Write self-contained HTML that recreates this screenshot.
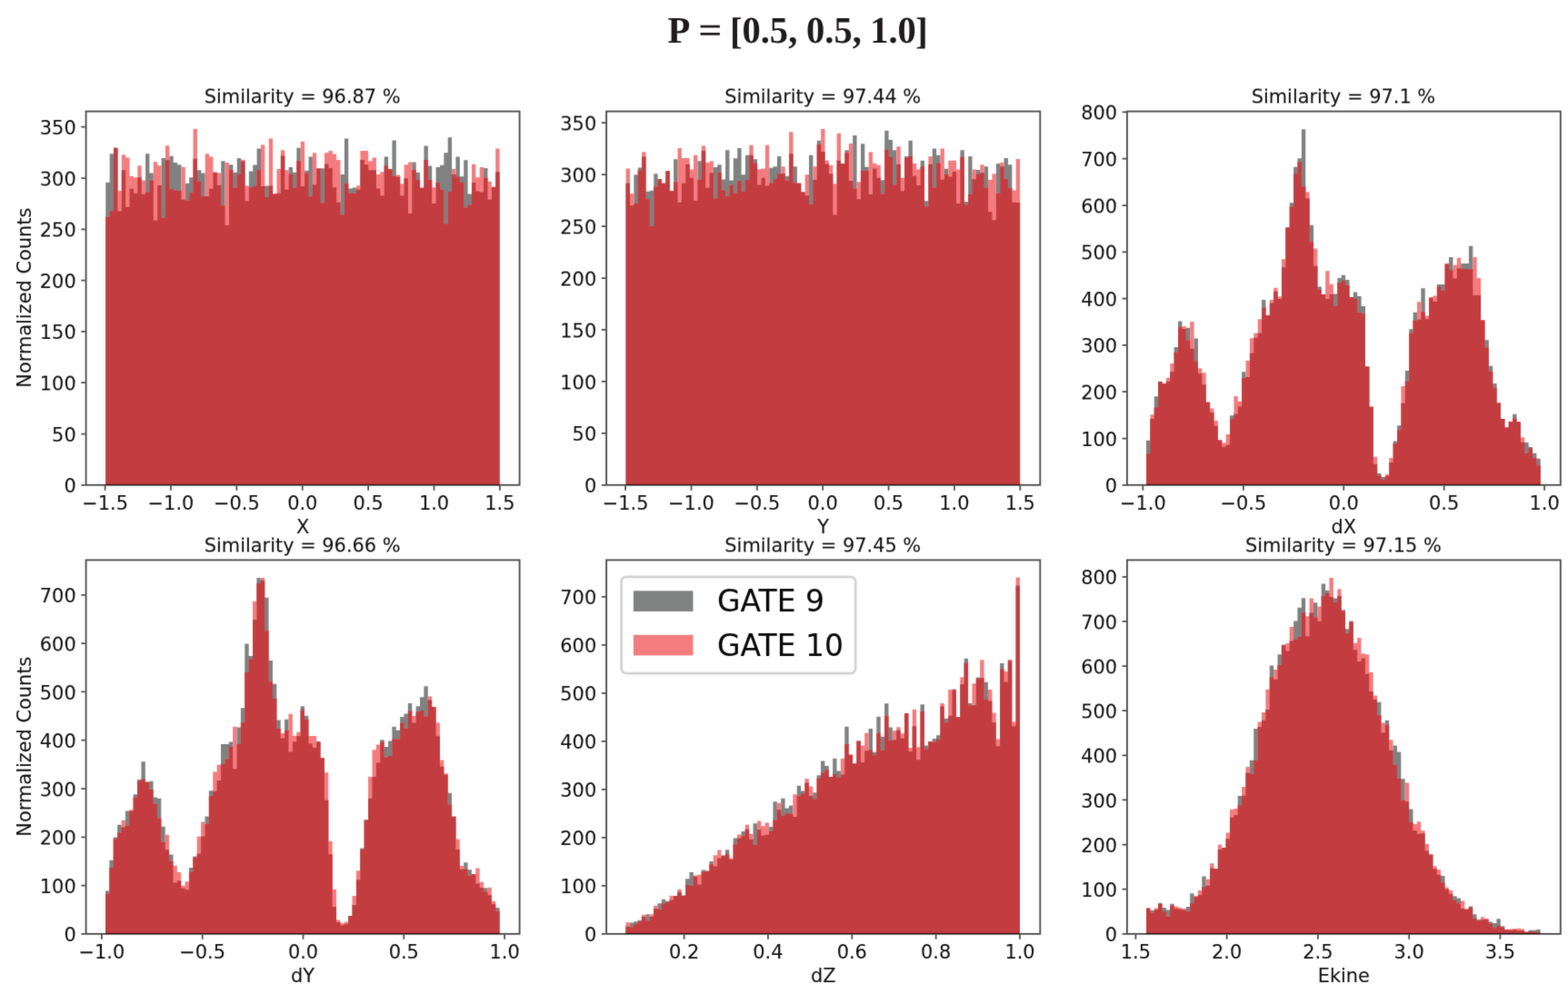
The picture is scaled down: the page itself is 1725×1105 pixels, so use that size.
<!DOCTYPE html>
<html lang="en"><head><meta charset="utf-8"><title>P = [0.5, 0.5, 1.0]</title>
<style>
html,body{margin:0;padding:0;background:#fff;}
body{width:1725px;height:1105px;overflow:hidden;}
svg{display:block;}
text{font-family:"DejaVu Sans","Liberation Sans",sans-serif;font-size:20.9px;fill:#141414;stroke:#141414;stroke-width:0.1px;stroke-linejoin:round;}
.main{font-family:"Liberation Serif",serif;font-weight:bold;font-size:40.6px;fill:#1f1b1c;stroke:none;text-rendering:geometricPrecision;}
.leg{font-size:33.0px;fill:#0a0a0a;stroke:#0a0a0a;}
.ax{fill:none;stroke:#000;stroke-opacity:0.7;stroke-width:1.85;}
.tk{stroke:#000;stroke-opacity:0.7;stroke-width:1.75;fill:none;}
</style></head><body>
<svg width="1725" height="1105" viewBox="0 0 1725 1105">
<defs>
<filter id="soft" x="0" y="0" width="1725" height="1105" filterUnits="userSpaceOnUse" color-interpolation-filters="sRGB"><feConvolveMatrix order="3" kernelMatrix="0.0112 0.0835 0.0112 0.0835 0.6209 0.0835 0.0112 0.0835 0.0112" edgeMode="duplicate" preserveAlpha="false"/></filter>
<filter id="softv" x="0" y="0" width="1725" height="1105" filterUnits="userSpaceOnUse" color-interpolation-filters="sRGB"><feConvolveMatrix order="3" kernelMatrix="0.0000 0.0000 0.0000 0.0530 0.3940 0.0530 0.0530 0.3940 0.0530" edgeMode="duplicate" preserveAlpha="false"/></filter>
<filter id="softh" x="0" y="0" width="1725" height="1105" filterUnits="userSpaceOnUse" color-interpolation-filters="sRGB"><feConvolveMatrix order="3" kernelMatrix="0.0000 0.0530 0.0530 0.0000 0.3940 0.3940 0.0000 0.0530 0.0530" edgeMode="duplicate" preserveAlpha="false"/></filter>
</defs>
<rect width="1725" height="1105" fill="#fff"/>
<g id="plots" filter="url(#soft)">

<g id="p1">
<path d="M116.30,533.80V200.72H120.68V169.22H125.05V163.03H129.43V232.22H133.81V187.14H138.18V227.87H142.56V207.78H146.94V212.67H151.31V195.29H155.69V213.75H160.07V169.22H164.44V190.40H168.82V242.54H173.20V203.98H177.57V173.89H181.95V176.28H186.33V171.72H190.71V178.99H195.08V181.17H199.46V219.73H203.84V201.80H208.21V195.29H212.59V174.65H216.97V187.14H221.34V190.40H225.72V215.93H230.10V207.78H234.47V189.86H238.85V203.98H243.23V177.15H247.60V247.97H251.98V181.17H256.36V189.86H260.73V173.89H265.11V177.58H269.49V221.36H273.86V188.44H278.24V181.49H282.62V163.46H286.99V205.06H291.37V204.52H295.75H300.12V213.43H304.50V212.67H308.88V171.39H313.25V208.86H317.63V183.88H322.01V189.86H326.38V162.70H330.76V205.06H335.14V187.68H339.52V172.48H343.89V203.22H348.27V185.51H352.65V185.18H357.02V180.62H361.40V184.97H365.78V206.15H370.15V222.77H374.53V192.03H378.91V152.38H383.28V207.56H387.66V206.48H392.04V208.86H396.41V176.06H400.79V181.17H405.17V187.14H409.54H413.92V207.56H418.30V215.38H422.67V172.48H427.05V186.27H431.43V154.55H435.80V194.74H440.18V215.38H444.56V196.37H448.93V234.93H453.31V178.45H457.69V189.64H462.06V206.69H466.44V160.53H470.82V182.58H475.19V224.07H479.57V183.88H483.95V181.71H488.33V168.13H492.70V151.29H497.08V192.03H501.46V172.48H505.83V194.20H510.21V176.28H514.59V213.43H518.96V200.72H523.34V210.49H527.72V211.58H532.09V184.97H536.47V219.73H540.85V206.15H545.22V189.31H549.60V533.80Z" fill="rgb(128,129,129)"/>
<path d="M116.30,533.80V238.74H120.68V232.22H125.05V162.37H129.43V209.95H133.81V170.30H138.18V173.56H142.56V193.66H146.94V195.29H151.31V182.25H155.69V198.55H160.07V211.58H164.44V198.55H168.82V178.23H173.20V182.25H177.57V239.82H181.95V160.20H186.33V208.32H190.71V209.41H195.08V209.95H199.46V183.66H203.84V220.81H208.21V212.12H212.59V142.06H216.97V199.63H221.34V215.93H225.72V169.22H230.10V172.48H234.47V189.86H238.85V190.40H243.23V226.24H247.60V178.99H251.98V187.14H256.36V206.69H260.73V192.03H265.11V175.73H269.49V204.52H273.86V206.15H278.24V205.06H282.62V187.14H286.99V159.44H291.37V217.01H295.75V152.38H300.12V213.43H304.50V186.05H308.88V165.20H313.25V187.14H317.63V191.48H322.01V206.69H326.38V177.15H330.76V155.64H335.14V190.18H339.52V216.25H343.89V168.13H348.27V185.51H352.65V223.53H357.02V168.13H361.40V165.96H365.78V169.54H370.15V176.06H374.53V236.56H378.91V201.80H383.28V212.67H387.66H392.04V204.30H396.41V165.96H400.79H405.17V177.15H409.54V173.56H413.92V192.03H418.30V189.31H422.67V182.25H427.05V186.27H431.43V193.66H435.80V192.57H440.18V202.13H444.56V181.17H448.93V178.45H453.31V186.92H457.69V198.00H462.06V206.69H466.44V176.06H470.82V198.00H475.19V206.15H479.57V200.72H483.95V208.86H488.33V246.34H492.70V211.04H497.08V186.05H501.46V194.74H505.83V200.72H510.21V228.42H514.59V225.16H518.96V180.84H523.34V195.29H527.72V183.88H532.09V195.83H536.47V199.63H540.85V205.61H545.22V163.46H549.60V533.80Z" fill="rgb(243,124,127)"/>
<path d="M116.30,533.80V238.74H120.68V232.22H125.05V163.03H129.43V232.22H133.81V187.14H138.18V227.87H142.56V207.78H146.94V212.67H151.31V195.29H155.69V213.75H160.07V211.58H164.44V198.55H168.82V242.54H173.20V203.98H177.57V239.82H181.95V176.28H186.33V208.32H190.71V209.41H195.08V209.95H199.46V219.73H203.84V220.81H208.21V212.12H212.59V174.65H216.97V199.63H221.34V215.93H225.72H230.10V207.78H234.47V189.86H238.85V203.98H243.23V226.24H247.60V247.97H251.98V187.14H256.36V206.69H260.73V192.03H265.11V177.58H269.49V221.36H273.86V206.15H278.24V205.06H282.62V187.14H286.99V205.06H291.37V217.01H295.75V204.52H300.12V213.43H304.50V212.67H308.88V171.39H313.25V208.86H317.63V191.48H322.01V206.69H326.38V177.15H330.76V205.06H335.14V190.18H339.52V216.25H343.89V203.22H348.27V185.51H352.65V223.53H357.02V180.62H361.40V184.97H365.78V206.15H370.15V222.77H374.53V236.56H378.91V201.80H383.28V212.67H387.66H392.04V208.86H396.41V176.06H400.79V181.17H405.17V187.14H409.54H413.92V207.56H418.30V215.38H422.67V182.25H427.05V186.27H431.43V193.66H435.80V194.74H440.18V215.38H444.56V196.37H448.93V234.93H453.31V186.92H457.69V198.00H462.06V206.69H466.44V176.06H470.82V198.00H475.19V224.07H479.57V200.72H483.95V208.86H488.33V246.34H492.70V211.04H497.08V192.03H501.46V194.74H505.83V200.72H510.21V228.42H514.59V225.16H518.96V200.72H523.34V210.49H527.72V211.58H532.09V195.83H536.47V219.73H540.85V206.15H545.22V189.31H549.60V533.80Z" fill="rgb(195,61,64)"/>
<rect class="ax" x="94.6" y="122.6" width="477.00" height="411.20"/>
<path class="tk" d="M115.60,534.75v4.8999999999999995M187.98,534.75v4.8999999999999995M260.37,534.75v4.8999999999999995M332.75,534.75v4.8999999999999995M405.13,534.75v4.8999999999999995M477.52,534.75v4.8999999999999995M549.90,534.75v4.8999999999999995M93.65,533.80h-4.3M93.65,477.50h-4.3M93.65,421.20h-4.3M93.65,364.90h-4.3M93.65,308.60h-4.3M93.65,252.30h-4.3M93.65,196.00h-4.3M93.65,139.70h-4.3"/>
</g>
<g id="p2">
<path d="M688.60,533.80V201.80H692.98V226.24H697.36V192.35H701.74V184.42H706.12V172.48H710.49V210.82H714.87V209.73H719.25V191.27H723.63V197.13H728.01V201.80H732.39V188.23H736.77V210.17H741.15V175.19H745.52V222.77H749.90V201.80H754.28V180.84H758.66V195.83H763.04V220.81H767.42V177.15H771.80V165.96H776.18V206.69H780.55V190.18H784.93V183.88H789.31V181.17H793.69V197.46H798.07V165.20H802.45V198.55H806.83V174.32H811.21V163.03H815.58V192.35H819.96V170.85H824.34V170.63H828.72V175.19H833.10V203.43H837.48V195.83H841.86V204.52H846.24V184.75H850.62V183.34H854.99V171.93H859.37V190.94H863.75V193.66H868.13V169.22H872.51V183.34H876.89V201.80H881.27V211.58H885.65V215.17H890.02V170.85H894.40V198.00H898.78V154.77H903.16V167.04H907.54V180.62H911.92V191.27H916.30V236.56H920.68V176.82H925.05V180.08H929.43V165.20H933.81V199.09H938.19V148.90H942.57V219.18H946.95V158.35H951.33V183.66H955.71V213.75H960.08V185.51H964.46V195.83H968.84V198.22H973.22V143.69H977.60V154.01H981.98V165.20H986.36V180.84H990.74V210.17H995.12V171.93H999.49V154.77H1003.87V193.44H1008.25V203.98H1012.63V176.82H1017.01V221.36H1021.39V180.84H1025.77V163.46H1030.15V170.85H1034.52V197.79H1038.90V185.84H1043.28V194.53H1047.66V189.10H1052.04V224.07H1056.42V165.20H1060.80V221.90H1065.18V171.93H1069.55V197.13H1073.93V186.92H1078.31V190.18H1082.69V183.34H1087.07V233.31H1091.45V242.32H1095.83V180.08H1100.21V183.34H1104.58V174.10H1108.96V181.17H1113.34V222.77H1117.72V222.99H1122.10V533.80Z" fill="rgb(128,129,129)"/>
<path d="M688.60,533.80V185.51H692.98V212.99H697.36V224.07H701.74V187.68H706.12V167.37H710.49V219.18H714.87V249.06H719.25V205.61H723.63V197.13H728.01V201.80H732.39V188.23H736.77V210.17H741.15V200.17H745.52V163.03H749.90V173.89H754.28V174.10H758.66V186.60H763.04V170.63H767.42V198.00H771.80V160.53H776.18V178.99H780.55V177.36H784.93V218.42H789.31V189.86H793.69V209.41H798.07V215.93H802.45V203.43H806.83V212.67H811.21V199.09H815.58V211.04H819.96V198.00H824.34V159.77H828.72V179.75H833.10V186.27H837.48V185.51H841.86V159.77H846.24V201.48H850.62V196.92H854.99V191.27H859.37V183.34H863.75V198.87H868.13V145.32H872.51V201.26H876.89V201.80H881.27V211.58H885.65V192.35H890.02V224.94H894.40V183.34H898.78V159.11H903.16V142.06H907.54V176.82H911.92V181.71H916.30V202.35H920.68V146.73H925.05V180.08H929.43V168.13H933.81V158.03H938.19V207.56H942.57V200.17H946.95V187.68H951.33H955.71V167.37H960.08V179.75H964.46V181.71H968.84V213.43H973.22V164.87H977.60V172.48H981.98V203.43H986.36V161.29H990.74V195.83H995.12V174.10H999.49V171.72H1003.87V179.75H1008.25V186.27H1012.63V183.34H1017.01V227.33H1021.39V171.93H1025.77V206.48H1030.15V179.54H1034.52V163.46H1038.90V192.03H1043.28V176.82H1047.66H1052.04V186.60H1056.42V172.80H1060.80V225.16H1065.18V213.75H1069.55V186.60H1073.93V192.03H1078.31V181.17H1082.69V206.69H1087.07V198.00H1091.45V191.27H1095.83V212.67H1100.21V178.67H1104.58V196.92H1108.96V206.69H1113.34V209.41H1117.72V174.97H1122.10V533.80Z" fill="rgb(243,124,127)"/>
<path d="M688.60,533.80V201.80H692.98V226.24H697.36V224.07H701.74V187.68H706.12V172.48H710.49V219.18H714.87V249.06H719.25V205.61H723.63V197.13H728.01V201.80H732.39V188.23H736.77V210.17H741.15V200.17H745.52V222.77H749.90V201.80H754.28V180.84H758.66V195.83H763.04V220.81H767.42V198.00H771.80V165.96H776.18V206.69H780.55V190.18H784.93V218.42H789.31V189.86H793.69V209.41H798.07V215.93H802.45V203.43H806.83V212.67H811.21V199.09H815.58V211.04H819.96V198.00H824.34V170.63H828.72V179.75H833.10V203.43H837.48V195.83H841.86V204.52H846.24V201.48H850.62V196.92H854.99V191.27H859.37V190.94H863.75V198.87H868.13V169.22H872.51V201.26H876.89V201.80H881.27V211.58H885.65V215.17H890.02V224.94H894.40V198.00H898.78V159.11H903.16V167.04H907.54V180.62H911.92V191.27H916.30V236.56H920.68V176.82H925.05V180.08H929.43V168.13H933.81V199.09H938.19V207.56H942.57V219.18H946.95V187.68H951.33H955.71V213.75H960.08V185.51H964.46V195.83H968.84V213.43H973.22V164.87H977.60V172.48H981.98V203.43H986.36V180.84H990.74V210.17H995.12V174.10H999.49V171.72H1003.87V193.44H1008.25V203.98H1012.63V183.34H1017.01V227.33H1021.39V180.84H1025.77V206.48H1030.15V179.54H1034.52V197.79H1038.90V192.03H1043.28V194.53H1047.66V189.10H1052.04V224.07H1056.42V172.80H1060.80V225.16H1065.18V213.75H1069.55V197.13H1073.93V192.03H1078.31V190.18H1082.69V206.69H1087.07V233.31H1091.45V242.32H1095.83V212.67H1100.21V183.34H1104.58V196.92H1108.96V206.69H1113.34V222.77H1117.72V222.99H1122.10V533.80Z" fill="rgb(195,61,64)"/>
<rect class="ax" x="667.1" y="122.6" width="477.20" height="411.20"/>
<path class="tk" d="M688.10,534.75v4.8999999999999995M760.47,534.75v4.8999999999999995M832.83,534.75v4.8999999999999995M905.20,534.75v4.8999999999999995M977.57,534.75v4.8999999999999995M1049.93,534.75v4.8999999999999995M1122.30,534.75v4.8999999999999995M666.15,533.80h-4.3M666.15,476.86h-4.3M666.15,419.91h-4.3M666.15,362.97h-4.3M666.15,306.03h-4.3M666.15,249.09h-4.3M666.15,192.14h-4.3M666.15,135.20h-4.3"/>
</g>
<g id="p3">
<path d="M1261.00,533.80V484.80H1265.38V460.90H1269.76V436.29H1274.15V420.00H1278.53V422.35H1282.91V420.00H1287.29V409.14H1291.67V381.99H1296.05V353.57H1300.44V362.08H1304.82V360.81H1309.20V383.80H1313.58V372.58H1317.96V410.95H1322.35V423.26H1326.73V442.81H1331.11V454.03H1335.49V468.87H1339.87V484.43H1344.25V491.67H1348.64V489.86H1353.02V457.29H1357.40V455.84H1361.78V447.15H1366.16V409.14H1370.55V415.11H1374.93V388.87H1379.31V371.67H1383.69V366.79H1388.07V330.00H1392.45V346.92H1396.84V333.38H1401.22V320.65H1405.60V329.00H1409.98V294.18H1414.36V250.40H1418.75V223.13H1423.13V183.73H1427.51V174.18H1431.89V142.34H1436.27V218.56H1440.65V247.81H1445.04V292.79H1449.42V315.47H1453.80V324.03H1458.18V329.00H1462.56V324.03H1466.95V323.43H1471.33V306.12H1475.71V302.74H1480.09V308.11H1484.47V327.01H1488.85V321.44H1493.24V326.02H1497.62V336.97H1502.00V403.58H1506.38V447.76H1510.76V510.65H1515.15V521.00H1519.53V524.98H1523.91V523.98H1528.29V509.05H1532.67V485.57H1537.05V468.26H1541.44V443.78H1545.82V407.96H1550.20V362.19H1554.58V343.86H1558.96V351.68H1563.35V317.13H1567.73V351.13H1572.11V328.00H1576.49V332.12H1580.87V313.11H1585.25H1589.64V290.63H1594.02V283.03H1598.40V306.60H1602.78V295.19H1607.16V289.98H1611.55H1615.93V270.75H1620.31V325.06H1624.69V324.74H1629.07V352.55H1633.45V374.33H1637.84V402.67H1642.22V421.89H1646.60V443.39H1650.98V460.98H1655.36V470.42H1659.75V463.91H1664.13V455.77H1668.51V464.23H1672.89V486.71H1677.27V487.04H1681.65V491.92H1686.04V498.76H1690.42V504.63H1694.80V533.80Z" fill="rgb(128,129,129)"/>
<path d="M1261.00,533.80V499.28H1265.38V456.20H1269.76V448.60H1274.15V419.64H1278.53V422.35H1282.91V415.66H1287.29V400.09H1291.67V387.42H1296.05V359.91H1300.44V359.00H1304.82V374.39H1309.20V354.12H1313.58V397.56H1317.96V405.52H1322.35V410.23H1326.73V442.81H1331.11V449.50H1335.49V463.08H1339.87V484.43H1344.25V487.51H1348.64V477.92H1353.02V461.27H1357.40V435.93H1361.78V441.72H1366.16V416.02H1370.55V397.01H1374.93V372.22H1379.31V366.79H1383.69V351.22H1388.07V338.56H1392.45V346.92H1396.84V330.00H1401.22V316.67H1405.60V326.62H1409.98V285.22H1414.36V250.40H1418.75V227.51H1423.13V191.29H1427.51V178.16H1431.89V205.22H1436.27V211.19H1440.65V266.32H1445.04V273.68H1449.42V318.66H1453.80V324.03H1458.18V298.16H1462.56V312.69H1466.95V336.97H1471.33V311.09H1475.71V309.10H1480.09V314.08H1484.47V327.01H1488.85V329.00H1493.24V343.93H1497.62V345.32H1502.00V403.58H1506.38V447.76H1510.76V502.69H1515.15V523.38H1519.53V527.96H1523.91V521.99H1528.29V504.08H1532.67V488.16H1537.05V473.23H1541.44V425.07H1545.82V419.50H1550.20V366.77H1554.58V352.76H1558.96V332.34H1563.35V343.20H1567.73V347.55H1572.11V326.91H1576.49V325.39H1580.87V315.61H1585.25V319.96H1589.64V289.76H1594.02V297.15H1598.40V291.72H1602.78V283.79H1607.16V295.73H1611.55V296.06H1615.93V296.28H1620.31V283.03H1624.69V306.05H1629.07V352.55H1633.45V382.48H1637.84V408.86H1642.22V426.78H1646.60V443.39H1650.98V460.98H1655.36V470.42H1659.75V463.91H1664.13V460.16H1668.51V464.23H1672.89V481.34H1677.27V498.76H1681.65V493.22H1686.04V504.14H1690.42V512.28H1694.80V533.80Z" fill="rgb(243,124,127)"/>
<path d="M1261.00,533.80V499.28H1265.38V460.90H1269.76V448.60H1274.15V420.00H1278.53V422.35H1282.91V420.00H1287.29V409.14H1291.67V387.42H1296.05V359.91H1300.44V362.08H1304.82V374.39H1309.20V383.80H1313.58V397.56H1317.96V410.95H1322.35V423.26H1326.73V442.81H1331.11V454.03H1335.49V468.87H1339.87V484.43H1344.25V491.67H1348.64V489.86H1353.02V461.27H1357.40V455.84H1361.78V447.15H1366.16V416.02H1370.55V415.11H1374.93V388.87H1379.31V371.67H1383.69V366.79H1388.07V338.56H1392.45V346.92H1396.84V333.38H1401.22V320.65H1405.60V329.00H1409.98V294.18H1414.36V250.40H1418.75V227.51H1423.13V191.29H1427.51V178.16H1431.89V205.22H1436.27V218.56H1440.65V266.32H1445.04V292.79H1449.42V318.66H1453.80V324.03H1458.18V329.00H1462.56V324.03H1466.95V336.97H1471.33V311.09H1475.71V309.10H1480.09V314.08H1484.47V327.01H1488.85V329.00H1493.24V343.93H1497.62V345.32H1502.00V403.58H1506.38V447.76H1510.76V510.65H1515.15V523.38H1519.53V527.96H1523.91V523.98H1528.29V509.05H1532.67V488.16H1537.05V473.23H1541.44V443.78H1545.82V419.50H1550.20V366.77H1554.58V352.76H1558.96V351.68H1563.35V343.20H1567.73V351.13H1572.11V328.00H1576.49V332.12H1580.87V315.61H1585.25V319.96H1589.64V290.63H1594.02V297.15H1598.40V306.60H1602.78V295.19H1607.16V295.73H1611.55V296.06H1615.93V296.28H1620.31V325.06H1624.69V324.74H1629.07V352.55H1633.45V382.48H1637.84V408.86H1642.22V426.78H1646.60V443.39H1650.98V460.98H1655.36V470.42H1659.75V463.91H1664.13V460.16H1668.51V464.23H1672.89V486.71H1677.27V498.76H1681.65V493.22H1686.04V504.14H1690.42V512.28H1694.80V533.80Z" fill="rgb(195,61,64)"/>
<rect class="ax" x="1239.9" y="122.6" width="476.90" height="411.20"/>
<path class="tk" d="M1257.40,534.75v4.8999999999999995M1367.83,534.75v4.8999999999999995M1478.25,534.75v4.8999999999999995M1588.67,534.75v4.8999999999999995M1699.10,534.75v4.8999999999999995M1238.95,533.80h-4.3M1238.95,482.50h-4.3M1238.95,431.20h-4.3M1238.95,379.90h-4.3M1238.95,328.60h-4.3M1238.95,277.30h-4.3M1238.95,226.00h-4.3M1238.95,174.70h-4.3M1238.95,123.40h-4.3"/>
</g>
<g id="p4">
<path d="M116.00,1027.85V980.59H120.38V946.74H124.76V921.40H129.14V907.83H133.52V910.54H137.90V892.44H142.28H146.66V874.34H151.04V858.05H155.42V838.14H159.80V860.77H164.18V859.86H168.56V877.42H172.94V878.87H177.32V909.64H181.70V935.34H186.08V940.41H190.46V971.54H194.84V969.37H199.22V977.51H203.60V979.32H207.98V954.89H212.36V942.58H216.74V939.50H221.12V920.50H225.49V898.42H229.87V870.18H234.25V870.72H238.63V858.96H243.01V819.03H247.39H251.77V816.44H256.15V846.29H260.53V800.52H264.91V779.23H269.29V708.58H273.67V722.11H278.05V682.31H282.43V635.95H286.81V638.93H291.19V657.84H295.57V726.89H299.95V752.76H304.33V792.56H308.71V812.46H313.09V791.77H317.47V827.59H321.85V816.44H326.23V810.07H330.61V777.24H334.99V787.79H339.37V818.43H343.75V823.01H348.13V815.65H352.51V834.35H356.89V880.65H361.27V940.35H365.65V998.06H370.03V1014.98H374.41V1018.56H378.79V1016.97H383.17V1008.01H387.55V996.07H391.93V968.21H396.31V933.38H400.69V902.54H405.07V878.66H409.45V854.93H413.83V839.50H418.21V814.30H422.59V821.91H426.97V815.39H431.35V799.86H435.73V803.66H440.11V788.99H444.48V785.41H448.86V774.11H453.24V795.51H457.62V777.37H462.00V767.27H466.38V755.32H470.76V770.53H475.14V778.13H479.52V810.17H483.90V843.85H488.28V852.76H492.66V872.80H497.04V898.86H501.42V935.02H505.80V956.68H510.18V949.35H514.56V957.17H518.94V962.05H523.32V972.48H527.70V977.04H532.08V977.36H536.46V985.18H540.84V994.95H545.22V999.02H549.60V1027.85Z" fill="rgb(128,129,129)"/>
<path d="M116.00,1027.85V983.85H120.38V954.89H124.76V923.21H129.14V916.52H133.52V902.76H137.90V908.73H142.28V891.18H146.66V877.42H151.04V859.86H155.42V857.15H159.80V860.77H164.18V868.91H168.56V884.66H172.94V900.59H177.32V926.83H181.70V918.69H186.08V947.65H190.46V952.71H194.84V959.95H199.22V974.80H203.60V970.27H207.98V959.41H212.36V943.67H216.74V920.86H221.12V904.57H225.49V906.92H229.87V876.15H234.25V849.55H238.63V841.76H243.01V840.92H247.39V835.55H251.77V822.01H256.15V799.73H260.53V819.03H264.91V795.15H269.29V740.02H273.67V725.50H278.05V661.82H282.43V641.92H286.81V635.95H291.19V694.25H295.57V750.37H299.95V768.68H304.33V801.72H308.71V807.09H313.09V803.71H317.47V785.80H321.85V809.68H326.23V805.70H330.61V781.22H334.99V791.77H339.37V810.07H343.75H348.13V817.04H352.51V834.35H356.89V850.20H361.27V925.82H365.65V978.76H370.03V1012.59H374.41V1015.97H378.79V1014.58H383.17V1008.01H387.55V986.12H391.93V958.26H396.31V934.98H400.69V902.54H405.07V854.78H409.45V825.17H413.83V819.41H418.21V816.15H422.59V833.53H426.97V831.90H431.35V813.43H435.73H440.11V795.51H444.48V801.48H448.86V782.15H453.24V787.91H457.62V783.24H462.00V781.93H466.38V788.45H470.76V766.51H475.14V778.13H479.52V795.51H483.90V836.46H488.28V851.24H492.66V885.50H497.04V898.86H501.42V923.62H505.80V952.93H510.18V956.68H514.56V963.68H518.94V962.05H523.32V955.54H527.70V970.85H532.08V981.60H536.46V976.71H540.84V991.69H545.22V1002.77H549.60V1027.85Z" fill="rgb(243,124,127)"/>
<path d="M116.00,1027.85V983.85H120.38V954.89H124.76V923.21H129.14V916.52H133.52V910.54H137.90V908.73H142.28V892.44H146.66V877.42H151.04V859.86H155.42V857.15H159.80V860.77H164.18V868.91H168.56V884.66H172.94V900.59H177.32V926.83H181.70V935.34H186.08V947.65H190.46V971.54H194.84V969.37H199.22V977.51H203.60V979.32H207.98V959.41H212.36V943.67H216.74V939.50H221.12V920.50H225.49V906.92H229.87V876.15H234.25V870.72H238.63V858.96H243.01V840.92H247.39V835.55H251.77V822.01H256.15V846.29H260.53V819.03H264.91V795.15H269.29V740.02H273.67V725.50H278.05V682.31H282.43V641.92H286.81V638.93H291.19V694.25H295.57V750.37H299.95V768.68H304.33V801.72H308.71V812.46H313.09V803.71H317.47V827.59H321.85V816.44H326.23V810.07H330.61V781.22H334.99V791.77H339.37V818.43H343.75V823.01H348.13V817.04H352.51V834.35H356.89V880.65H361.27V940.35H365.65V998.06H370.03V1014.98H374.41V1018.56H378.79V1016.97H383.17V1008.01H387.55V996.07H391.93V968.21H396.31V934.98H400.69V902.54H405.07V878.66H409.45V854.93H413.83V839.50H418.21V816.15H422.59V833.53H426.97V831.90H431.35V813.43H435.73H440.11V795.51H444.48V801.48H448.86V782.15H453.24V795.51H457.62V783.24H462.00V781.93H466.38V788.45H470.76V770.53H475.14V778.13H479.52V810.17H483.90V843.85H488.28V852.76H492.66V885.50H497.04V898.86H501.42V935.02H505.80V956.68H510.18H514.56V963.68H518.94V962.05H523.32V972.48H527.70V977.04H532.08V981.60H536.46V985.18H540.84V994.95H545.22V1002.77H549.60V1027.85Z" fill="rgb(195,61,64)"/>
<rect class="ax" x="94.6" y="616.4" width="477.00" height="411.45"/>
<path class="tk" d="M111.90,1028.80v4.8999999999999995M222.70,1028.80v4.8999999999999995M333.50,1028.80v4.8999999999999995M444.30,1028.80v4.8999999999999995M555.10,1028.80v4.8999999999999995M93.65,1027.85h-4.3M93.65,974.57h-4.3M93.65,921.29h-4.3M93.65,868.01h-4.3M93.65,814.74h-4.3M93.65,761.46h-4.3M93.65,708.18h-4.3M93.65,654.90h-4.3"/>
</g>
<g id="p5">
<path d="M688.40,1027.85V1019.71H692.78V1015.58H697.16V1014.28H701.54V1012.65H705.92V1009.07H710.30V1006.13H714.68V1009.07H719.06V999.94H723.44V994.18H727.82V989.84H732.20V991.69H736.58V990.38H740.96V986.04H745.34V981.69H749.72V985.82H754.10V967.35H758.48V959.97H762.86V964.86H767.24V973.55H771.62V957.58H776.00V958.66H780.38V948.02H784.76V953.45H789.14V944.76H793.52V941.72H797.89V935.20H802.27V946.06H806.65V922.49H811.03V922.82H815.41V914.89H819.79V912.87H824.17V923.74H828.55V906.36H832.93V913.20H837.31V919.39H841.69V918.63H846.07V909.94H850.45V882.13H854.83V891.15H859.21V878.87H863.59V889.52H867.97V886.48H872.35V899.08H876.73V864.75H881.11V870.51H885.49V861.49H889.87V875.94H894.25V872.14H898.63V853.13H903.01V837.60H907.39V843.03H911.77V854.98H916.15V834.66H920.53V848.62H924.91V852.43H929.29V799.74H933.67V830.70H938.05V840.48H942.43V815.82H946.81V839.07H951.19V826.36H955.57V801.92H959.95V827.77H964.33V788.66H968.71V810.82H973.09V774.22H977.47V800.61H981.85V814.41H986.23V803.87H990.61V812.78H994.99V785.08H999.37V826.90H1003.75V799.20H1008.13V836.13H1012.51V775.30H1016.88V820.38H1021.26V816.04H1025.64V813.00H1030.02V809.30H1034.40V777.28H1038.78V790.80H1043.16V787.87H1047.54V758.55H1051.92V789.17H1056.30V753.34H1060.68V724.67H1065.06V774.02H1069.44V776.14H1073.82V745.52H1078.20V746.34H1082.58V750.73H1086.96V771.58H1091.34V795.20H1095.72V821.25H1100.10V730.05H1104.48V750.41H1108.86V727.28H1113.24V799.27H1117.62V644.87H1122.00V1027.85Z" fill="rgb(128,129,129)"/>
<path d="M688.40,1027.85V1015.15H692.78V1020.58H697.16V1017.00H701.54V1014.28H705.92V1006.68H710.30V1013.19H714.68V1006.13H719.06V996.68H723.44V1001.03H727.82V994.51H732.20V993.10H736.58V985.82H740.96V986.04H745.34V978.65H749.72V985.82H754.10V973.87H758.48V974.96H762.86V963.44H767.24V962.68H771.62V959.42H776.00V958.66H780.38V951.28H784.76V941.28H789.14V935.53H793.52V941.72H797.89V940.20H802.27V944.54H806.65V929.34H811.03V918.47H815.41V920.32H819.79V907.77H824.17V917.76H828.55V929.93H832.93V903.42H837.31V909.29H841.69V905.60H846.07V915.05H850.45V902.55H854.83V883.87H859.21V897.67H863.59V895.17H867.97V895.82H872.35V874.31H876.73V876.27H881.11V873.44H885.49V856.93H889.87V865.41H894.25V879.53H898.63V856.39H903.01V850.41H907.39V847.16H911.77V854.98H916.15V852.04H920.53V855.69H924.91V835.05H929.29V819.08H933.67V830.70H938.05V840.48H942.43V815.17H946.81V820.38H951.19V806.80H955.57V825.27H959.95V831.03H964.33V806.80H968.71V825.81H973.09V787.79H977.47V814.95H981.85V804.31H986.23V800.29H990.61V807.13H994.99V785.08H999.37V823.10H1003.75V780.73H1008.13V822.34H1012.51V782.91H1016.88V824.51H1021.26V816.04H1025.64V817.12H1030.02V813.65H1034.40V774.02H1038.78V795.20H1043.16V758.88H1047.54V759.53H1051.92V789.17H1056.30V745.20H1060.68V729.56H1065.06V776.47H1069.44V752.36H1073.82V746.82H1078.20V726.30H1082.58V769.95H1086.96V758.88H1091.34V784.61H1095.72V813.44H1100.10V736.56H1104.48V739.01H1108.86V725.98H1113.24V794.38H1117.62V635.59H1122.00V1027.85Z" fill="rgb(243,124,127)"/>
<path d="M688.40,1027.85V1019.71H692.78V1020.58H697.16V1017.00H701.54V1014.28H705.92V1009.07H710.30V1013.19H714.68V1009.07H719.06V999.94H723.44V1001.03H727.82V994.51H732.20V993.10H736.58V990.38H740.96V986.04H745.34V981.69H749.72V985.82H754.10V973.87H758.48V974.96H762.86V964.86H767.24V973.55H771.62V959.42H776.00V958.66H780.38V951.28H784.76V953.45H789.14V944.76H793.52V941.72H797.89V940.20H802.27V946.06H806.65V929.34H811.03V922.82H815.41V920.32H819.79V912.87H824.17V923.74H828.55V929.93H832.93V913.20H837.31V919.39H841.69V918.63H846.07V915.05H850.45V902.55H854.83V891.15H859.21V897.67H863.59V895.17H867.97V895.82H872.35V899.08H876.73V876.27H881.11V873.44H885.49V861.49H889.87V875.94H894.25V879.53H898.63V856.39H903.01V850.41H907.39V847.16H911.77V854.98H916.15V852.04H920.53V855.69H924.91V852.43H929.29V819.08H933.67V830.70H938.05V840.48H942.43V815.82H946.81V839.07H951.19V826.36H955.57V825.27H959.95V831.03H964.33V806.80H968.71V825.81H973.09V787.79H977.47V814.95H981.85V814.41H986.23V803.87H990.61V812.78H994.99V785.08H999.37V826.90H1003.75V799.20H1008.13V836.13H1012.51V782.91H1016.88V824.51H1021.26V816.04H1025.64V817.12H1030.02V813.65H1034.40V777.28H1038.78V795.20H1043.16V787.87H1047.54V759.53H1051.92V789.17H1056.30V753.34H1060.68V729.56H1065.06V776.47H1069.44V776.14H1073.82V746.82H1078.20V746.34H1082.58V769.95H1086.96V771.58H1091.34V795.20H1095.72V821.25H1100.10V736.56H1104.48V750.41H1108.86V727.28H1113.24V799.27H1117.62V644.87H1122.00V1027.85Z" fill="rgb(195,61,64)"/>
<rect class="ax" x="667.1" y="616.4" width="477.20" height="411.45"/>
<path class="tk" d="M752.60,1028.80v4.8999999999999995M844.95,1028.80v4.8999999999999995M937.30,1028.80v4.8999999999999995M1029.65,1028.80v4.8999999999999995M1122.00,1028.80v4.8999999999999995M666.15,1027.85h-4.3M666.15,974.84h-4.3M666.15,921.84h-4.3M666.15,868.83h-4.3M666.15,815.82h-4.3M666.15,762.81h-4.3M666.15,709.81h-4.3M666.15,656.80h-4.3"/>
</g>
<g id="p6">
<path d="M1261.00,1027.85V999.93H1265.38V1001.89H1269.76V1001.24H1274.14V993.74H1278.52V999.12H1282.90V1001.56H1287.28V994.72H1291.66V999.93H1296.04V1000.75H1300.42V1001.56H1304.80V997.98H1309.18V983.31H1313.56V987.22H1317.94V984.94H1322.32V964.41H1326.70V974.67H1331.08V955.61H1335.46V956.26H1339.84V935.07H1344.22V933.12H1348.60V923.34H1352.98V899.71H1357.36V896.94H1361.74V876.08H1366.12V875.75H1370.49V850.59H1374.87V836.84H1379.25V802.09H1383.63V799.91H1388.01V792.67H1392.39V781.09H1396.77V732.58H1401.15V747.75H1405.53V720.37H1409.91V709.51H1414.29V716.46H1418.67V705.38H1423.05V683.44H1427.43V668.67H1431.81V658.13H1436.19V700.17H1440.57V674.42H1444.95V663.24H1449.33V683.87H1453.71V642.38H1458.09V649.77H1462.47V657.04H1466.85V658.46H1471.23V655.96H1475.61V671.17H1479.99V692.13H1484.37V683.44H1488.75V715.16H1493.13V727.98H1497.51V724.39H1501.89V741.77H1506.27V760.94H1510.65V769.90H1515.03V772.67H1519.41V806.55H1523.79V792.70H1528.17V825.77H1532.55V820.39H1536.93V827.39H1541.31V857.36H1545.69V882.28H1550.07V890.42H1554.45V914.07H1558.83V917.87H1563.21V917.24H1567.59V936.24H1571.97V940.68H1576.35V956.13H1580.73V962.85H1585.11V964.12H1589.48V978.69H1593.86V983.75H1598.24V986.29H1602.62V988.57H1607.00V999.97H1611.38V1000.86H1615.76V997.44H1620.14V1006.31H1624.52V1011.88H1628.90V1012.26H1633.28V1011.88H1637.66V1014.41H1642.04V1016.06H1646.42V1011.37H1650.80V1019.23H1655.18V1023.28H1659.56V1023.66H1663.94V1023.28H1668.32V1024.30H1672.70H1677.08V1025.82H1681.46V1023.66H1685.84H1690.22V1023.03H1694.60V1027.85Z" fill="rgb(128,129,129)"/>
<path d="M1261.00,1027.85V999.12H1265.38V1004.50H1269.76V999.61H1274.14V995.05H1278.52V1003.19H1282.90V1008.41H1287.28V996.68H1291.66V997.49H1296.04V999.12H1300.42V999.93H1304.80V1003.19H1309.18V994.23H1313.56V986.08H1317.94V980.05H1322.32V976.30H1326.70V967.67H1331.08V950.23H1335.46V956.26H1339.84V929.53H1344.22V933.12H1348.60V916.49H1352.98V891.07H1357.36V889.93H1361.74V886.18H1366.12V865.97H1370.49V844.08H1374.87V852.04H1379.25V836.84H1383.63V794.41H1388.01V783.98H1392.39V758.64H1396.77V745.18H1401.15V736.88H1405.53V732.00H1409.91V710.27H1414.29V708.10H1418.67V689.96H1423.05V703.75H1427.43V700.82H1431.81V673.88H1436.19V678.23H1440.57V658.46H1444.95V679.53H1449.33V667.58H1453.71V655.96H1458.09V653.03H1462.47V636.08H1466.85V663.02H1471.23V648.35H1475.61V672.79H1479.99V697.24H1484.37V684.53H1488.75V707.77H1493.13V701.91H1497.51V719.29H1501.89V720.37H1506.27V740.10H1510.65V765.50H1515.03V787.33H1519.41V795.47H1523.79V798.08H1528.17V814.36H1532.55V842.05H1536.93V856.71H1541.31V880.65H1545.69V861.60H1550.07V905.08H1554.45V907.10H1558.83V904.19H1563.21V914.33H1567.59V928.64H1571.97V940.04H1576.35V953.35H1580.73V956.89H1585.11V971.34H1589.48V976.41H1593.86V979.70H1598.24V991.10H1602.62V994.14H1607.00V991.61H1611.38V1000.86H1615.76V998.70H1620.14V1010.99H1624.52V1013.53H1628.90V1009.35H1633.28V1010.99H1637.66V1016.44H1642.04V1021.13H1646.42V1018.98H1650.80V1020.50H1655.18V1023.28H1659.56V1022.40H1663.94V1022.14H1668.32V1021.76H1672.70V1022.40H1677.08V1025.82H1681.46V1025.31H1685.84V1025.82H1690.22V1026.20H1694.60V1027.85Z" fill="rgb(243,124,127)"/>
<path d="M1261.00,1027.85V999.93H1265.38V1004.50H1269.76V1001.24H1274.14V995.05H1278.52V1003.19H1282.90V1008.41H1287.28V996.68H1291.66V999.93H1296.04V1000.75H1300.42V1001.56H1304.80V1003.19H1309.18V994.23H1313.56V987.22H1317.94V984.94H1322.32V976.30H1326.70V974.67H1331.08V955.61H1335.46V956.26H1339.84V935.07H1344.22V933.12H1348.60V923.34H1352.98V899.71H1357.36V896.94H1361.74V886.18H1366.12V875.75H1370.49V850.59H1374.87V852.04H1379.25V836.84H1383.63V799.91H1388.01V792.67H1392.39V781.09H1396.77V745.18H1401.15V747.75H1405.53V732.00H1409.91V710.27H1414.29V716.46H1418.67V705.38H1423.05V703.75H1427.43V700.82H1431.81V673.88H1436.19V700.17H1440.57V674.42H1444.95V679.53H1449.33V683.87H1453.71V655.96H1458.09V653.03H1462.47V657.04H1466.85V663.02H1471.23V655.96H1475.61V672.79H1479.99V697.24H1484.37V684.53H1488.75V715.16H1493.13V727.98H1497.51V724.39H1501.89V741.77H1506.27V760.94H1510.65V769.90H1515.03V787.33H1519.41V806.55H1523.79V798.08H1528.17V825.77H1532.55V842.05H1536.93V856.71H1541.31V880.65H1545.69V882.28H1550.07V905.08H1554.45V914.07H1558.83V917.87H1563.21V917.24H1567.59V936.24H1571.97V940.68H1576.35V956.13H1580.73V962.85H1585.11V971.34H1589.48V978.69H1593.86V983.75H1598.24V991.10H1602.62V994.14H1607.00V999.97H1611.38V1000.86H1615.76V998.70H1620.14V1010.99H1624.52V1013.53H1628.90V1012.26H1633.28V1011.88H1637.66V1016.44H1642.04V1021.13H1646.42V1018.98H1650.80V1020.50H1655.18V1023.28H1659.56V1023.66H1663.94V1023.28H1668.32V1024.30H1672.70H1677.08V1025.82H1681.46V1025.31H1685.84V1025.82H1690.22V1026.20H1694.60V1027.85Z" fill="rgb(195,61,64)"/>
<rect class="ax" x="1239.9" y="616.4" width="476.90" height="411.45"/>
<path class="tk" d="M1249.40,1028.80v4.8999999999999995M1349.65,1028.80v4.8999999999999995M1449.90,1028.80v4.8999999999999995M1550.15,1028.80v4.8999999999999995M1650.40,1028.80v4.8999999999999995M1238.95,1027.85h-4.3M1238.95,978.72h-4.3M1238.95,929.59h-4.3M1238.95,880.46h-4.3M1238.95,831.32h-4.3M1238.95,782.19h-4.3M1238.95,733.06h-4.3M1238.95,683.93h-4.3M1238.95,634.80h-4.3"/>
</g>
<g id="legend">
<rect x="683.6" y="634.8" width="257.6" height="106.3" rx="5.5" ry="5.5" fill="#fff" fill-opacity="0.8" stroke="#d2d2d2" stroke-width="2.7"/>
<rect x="696.9" y="650.3" width="65.6" height="22.6" fill="rgb(128,129,129)"/>
<rect x="696.9" y="698.8" width="65.6" height="22.6" fill="rgb(243,124,127)"/>
</g>
</g>
<g id="labels" filter="url(#soft)">
<text class="main" transform="matrix(1 0 0 1.02 0 47)" y="0"><tspan x="734.6">P</tspan> <tspan x="768.3" textLength="26.2" lengthAdjust="spacingAndGlyphs">=</tspan> <tspan x="802.9" dy="1.2">[</tspan><tspan dy="-1.2">0.5,</tspan> <tspan x="887.0">0.5,</tspan> <tspan x="957.2">1.0</tspan><tspan dy="1.2" dx="-0.6">]</tspan></text>
<text x="115.60" y="561" text-anchor="middle">−1.5</text>
<text x="187.98" y="561" text-anchor="middle">−1.0</text>
<text x="260.37" y="561" text-anchor="middle">−0.5</text>
<text x="332.75" y="561" text-anchor="middle">0.0</text>
<text x="405.13" y="561" text-anchor="middle">0.5</text>
<text x="477.52" y="561" text-anchor="middle">1.0</text>
<text x="549.90" y="561" text-anchor="middle">1.5</text>
<text x="83.70" y="542" text-anchor="end">0</text>
<text x="83.70" y="486" text-anchor="end">50</text>
<text x="83.70" y="373" text-anchor="end">150</text>
<text x="83.70" y="317" text-anchor="end">200</text>
<text x="83.70" y="148" text-anchor="end">350</text>
<text x="333.10" y="587" text-anchor="middle">X</text>
<text transform="translate(34,327.70) rotate(-90)" text-anchor="middle">Normalized Counts</text>
<text x="688.10" y="561" text-anchor="middle">−1.5</text>
<text x="760.47" y="561" text-anchor="middle">−1.0</text>
<text x="832.83" y="561" text-anchor="middle">−0.5</text>
<text x="905.20" y="561" text-anchor="middle">0.0</text>
<text x="977.57" y="561" text-anchor="middle">0.5</text>
<text x="1049.93" y="561" text-anchor="middle">1.0</text>
<text x="1122.30" y="561" text-anchor="middle">1.5</text>
<text x="656.20" y="542" text-anchor="end">0</text>
<text x="656.20" y="485" text-anchor="end">50</text>
<text x="905.70" y="587" text-anchor="middle">Y</text>
<text x="1257.40" y="561" text-anchor="middle">−1.0</text>
<text x="1367.83" y="561" text-anchor="middle">−0.5</text>
<text x="1478.25" y="561" text-anchor="middle">0.0</text>
<text x="1588.67" y="561" text-anchor="middle">0.5</text>
<text x="1699.10" y="561" text-anchor="middle">1.0</text>
<text x="1229.00" y="542" text-anchor="end">0</text>
<text x="1229.00" y="491" text-anchor="end">100</text>
<text x="1229.00" y="388" text-anchor="end">300</text>
<text x="1229.00" y="337" text-anchor="end">400</text>
<text x="1229.00" y="183" text-anchor="end">700</text>
<text x="1478.35" y="587" text-anchor="middle">dX</text>
<text x="111.90" y="1055" text-anchor="middle">−1.0</text>
<text x="222.70" y="1055" text-anchor="middle">−0.5</text>
<text x="333.50" y="1055" text-anchor="middle">0.0</text>
<text x="444.30" y="1055" text-anchor="middle">0.5</text>
<text x="555.10" y="1055" text-anchor="middle">1.0</text>
<text x="83.70" y="1036" text-anchor="end">0</text>
<text x="83.70" y="983" text-anchor="end">100</text>
<text x="83.70" y="823" text-anchor="end">400</text>
<text x="83.70" y="770" text-anchor="end">500</text>
<text x="83.70" y="663" text-anchor="end">700</text>
<text x="333.10" y="1081" text-anchor="middle">dY</text>
<text transform="translate(34,821.62) rotate(-90)" text-anchor="middle">Normalized Counts</text>
<text x="752.60" y="1055" text-anchor="middle">0.2</text>
<text x="844.95" y="1055" text-anchor="middle">0.4</text>
<text x="937.30" y="1055" text-anchor="middle">0.6</text>
<text x="1029.65" y="1055" text-anchor="middle">0.8</text>
<text x="1122.00" y="1055" text-anchor="middle">1.0</text>
<text x="656.20" y="1036" text-anchor="end">0</text>
<text x="656.20" y="983" text-anchor="end">100</text>
<text x="656.20" y="930" text-anchor="end">200</text>
<text x="656.20" y="877" text-anchor="end">300</text>
<text x="656.20" y="824" text-anchor="end">400</text>
<text x="656.20" y="771" text-anchor="end">500</text>
<text x="656.20" y="718" text-anchor="end">600</text>
<text x="656.20" y="665" text-anchor="end">700</text>
<text x="905.70" y="1081" text-anchor="middle">dZ</text>
<text x="1249.40" y="1055" text-anchor="middle">1.5</text>
<text x="1349.65" y="1055" text-anchor="middle">2.0</text>
<text x="1449.90" y="1055" text-anchor="middle">2.5</text>
<text x="1550.15" y="1055" text-anchor="middle">3.0</text>
<text x="1650.40" y="1055" text-anchor="middle">3.5</text>
<text x="1229.00" y="1036" text-anchor="end">0</text>
<text x="1229.00" y="987" text-anchor="end">100</text>
<text x="1229.00" y="938" text-anchor="end">200</text>
<text x="1229.00" y="889" text-anchor="end">300</text>
<text x="1229.00" y="643" text-anchor="end">800</text>
<text x="1478.35" y="1081" text-anchor="middle">Ekine</text>
<text class="leg" x="789.00" y="673" text-anchor="start">GATE 9</text>
<text class="leg" x="789.00" y="722" text-anchor="start">GATE 10</text>
</g>
<g id="labels-h" filter="url(#softv)">
<text x="83.70" y="429" text-anchor="end">100</text>
<text x="83.70" y="260" text-anchor="end">250</text>
<text x="83.70" y="204" text-anchor="end">300</text>
<text x="332.70" y="113" text-anchor="middle">Similarity = 96.87 %</text>
<text x="656.20" y="428" text-anchor="end">100</text>
<text x="656.20" y="371" text-anchor="end">150</text>
<text x="656.20" y="314" text-anchor="end">200</text>
<text x="656.20" y="257" text-anchor="end">250</text>
<text x="656.20" y="200" text-anchor="end">300</text>
<text x="656.20" y="143" text-anchor="end">350</text>
<text x="905.30" y="113" text-anchor="middle">Similarity = 97.44 %</text>
<text x="1229.00" y="439" text-anchor="end">200</text>
<text x="1229.00" y="285" text-anchor="end">500</text>
<text x="1229.00" y="234" text-anchor="end">600</text>
<text x="1229.00" y="131" text-anchor="end">800</text>
<text x="1477.95" y="113" text-anchor="middle">Similarity = 97.1 %</text>
<text x="83.70" y="929" text-anchor="end">200</text>
<text x="83.70" y="876" text-anchor="end">300</text>
<text x="83.70" y="716" text-anchor="end">600</text>
<text x="332.70" y="607" text-anchor="middle">Similarity = 96.66 %</text>
<text x="905.30" y="607" text-anchor="middle">Similarity = 97.45 %</text>
<text x="1229.00" y="839" text-anchor="end">400</text>
<text x="1229.00" y="790" text-anchor="end">500</text>
<text x="1229.00" y="741" text-anchor="end">600</text>
<text x="1229.00" y="692" text-anchor="end">700</text>
<text x="1477.95" y="607" text-anchor="middle">Similarity = 97.15 %</text>
</g>
</svg></body></html>
